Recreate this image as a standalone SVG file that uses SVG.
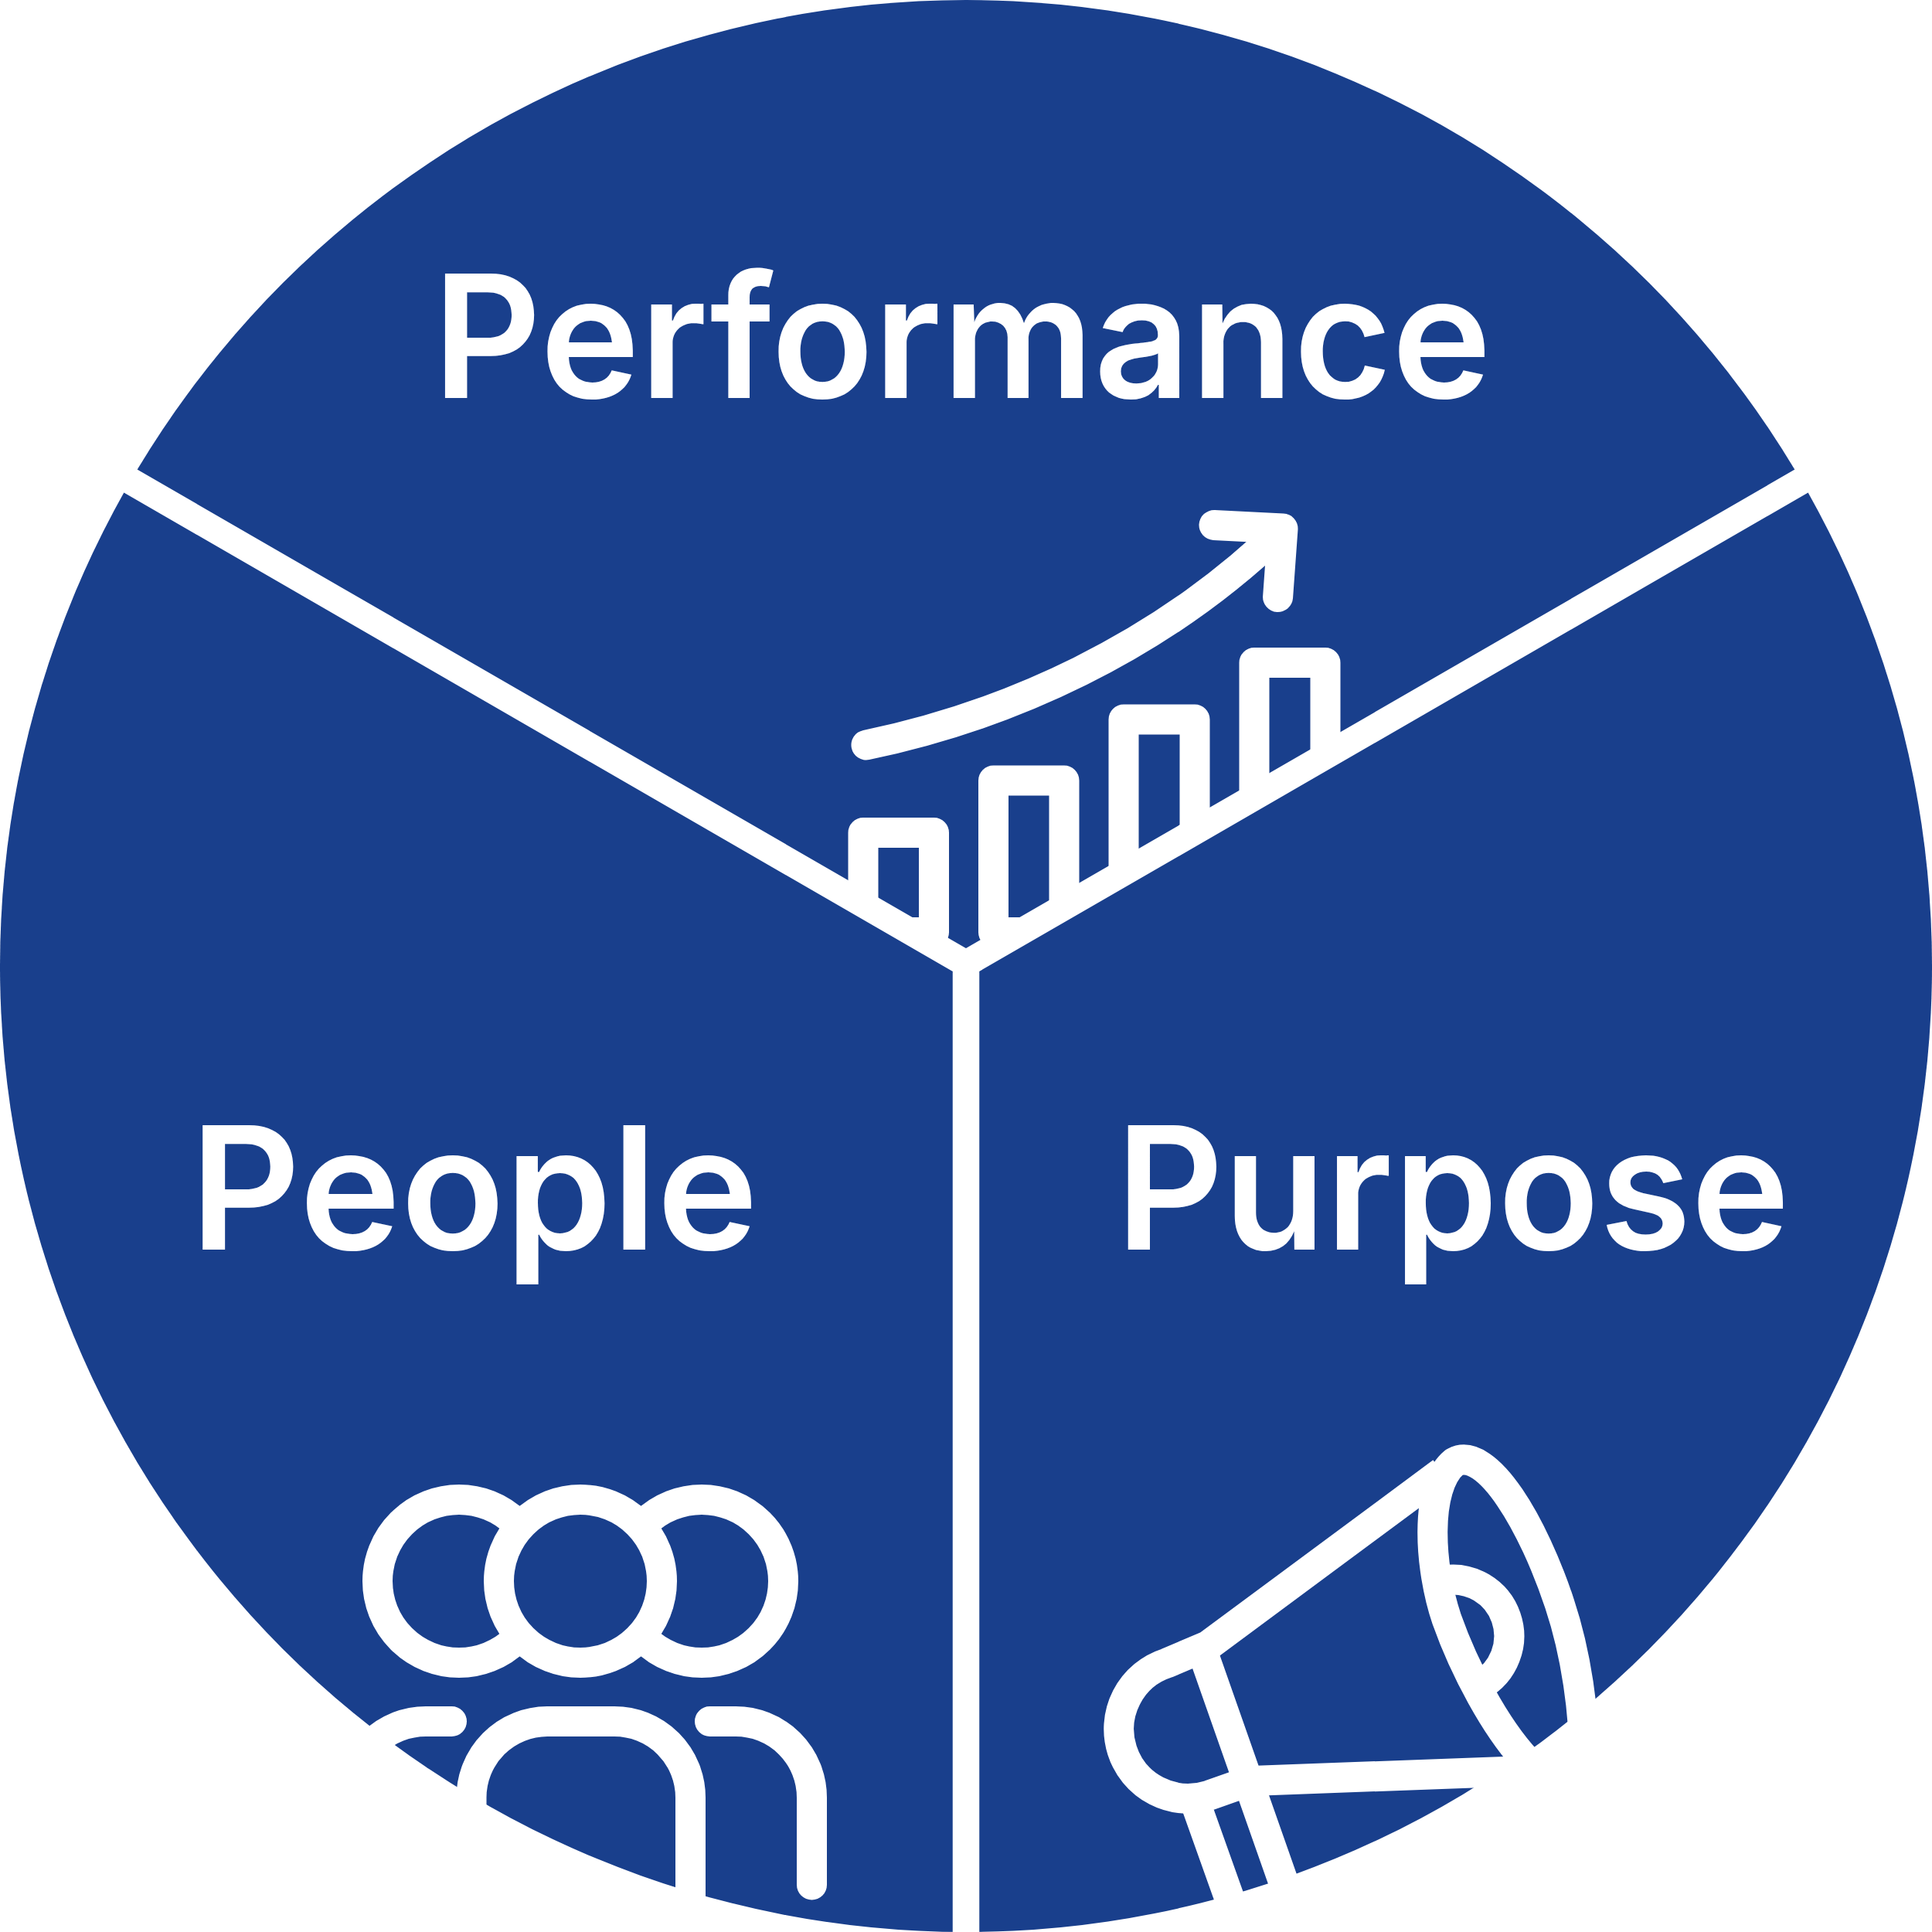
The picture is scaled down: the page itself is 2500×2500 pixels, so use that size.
<svg xmlns="http://www.w3.org/2000/svg" width="2500" height="2500" viewBox="0 0 2500 2500">
<style>
.s{fill:none;stroke:#fff;stroke-width:39;stroke-linejoin:round}
.r{stroke-linecap:round}
.t{font-family:Inter,Lato,sans-serif;font-weight:600;font-size:221px;fill:#fff}
</style>
<defs><clipPath id="above"><polygon points="1250,1247 2500,525 2500,0 0,0 0,525"/></clipPath></defs>
<rect width="2500" height="2500" fill="#fff"/>
<circle id="disc" cx="1250" cy="1250" r="1250" fill="#193f8c"/>
<g id="dividers" fill="none" stroke="#fff" stroke-width="34.5">
<path d="M1250 2500V1247L-50 496M1250 1247L2550 496"/>
</g>
<g id="performance">
<text class="t" x="560" y="515" textLength="1370" lengthAdjust="spacingAndGlyphs">Performance</text>
<g clip-path="url(#above)">
<rect class="s" x="1117" y="1077.5" width="91.5" height="129"/>
<rect class="s" x="1285.5" y="1010" width="91.5" height="196.5"/>
<rect class="s" x="1454" y="931" width="92" height="320"/>
<rect class="s" x="1623" y="857.5" width="92" height="320"/>
</g>
<path class="s r" d="M1121 964C1300 927 1500 840 1660 684M1571 679.5L1660 684L1653.6 772.6"/>
</g>
<g id="people">
<text class="t" x="246" y="1617" textLength="735" lengthAdjust="spacingAndGlyphs">People</text>
<circle class="s" cx="594" cy="2046" r="105.5"/>
<circle class="s" cx="908" cy="2046" r="105.5"/>
<circle class="s" cx="751" cy="2046" r="105.5" style="fill:#193f8c"/>
<path class="s r" d="M584.5 2227.5H551A98.5 98.5 0 0 0 452.5 2326V2439"/>
<path class="s" d="M610 2600V2326A98.5 98.5 0 0 1 708 2227.5H795A98.5 98.5 0 0 1 893.5 2326V2600"/>
<path class="s r" d="M918.5 2227.5H952A98.5 98.5 0 0 1 1050.5 2326V2439"/>
</g>
<g id="purpose">
<text class="t" x="1444" y="1617" textLength="872" lengthAdjust="spacingAndGlyphs">Purpose</text>
<path class="s" d="M1882 1892C1925 1870 1985 1975 2018 2075C2038 2135 2052 2215 2050 2300C2045 2340 2005 2310 1975 2278C1935 2235 1895 2160 1872 2095C1850 2030 1842 1925 1882 1892Z"/>
<path class="s" d="M1866 1905L1563 2129.5L1510 2152A89 89 0 0 0 1565 2323L1630 2300"/>
<path class="s" d="M1620 2304.5L2000 2290.5"/>
<path class="s" d="M1555 2134L1680 2490M1548 2336L1610 2510"/>
<path class="s" d="M1868 2045A73 73 0 0 1 1915 2181"/>
</g>
</svg>
